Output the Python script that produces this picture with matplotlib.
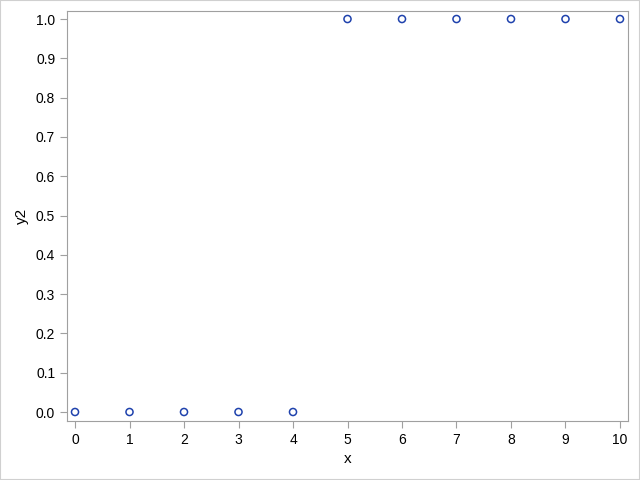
import matplotlib
matplotlib.use("Agg")
import matplotlib.pyplot as plt
from matplotlib.patches import Rectangle

x = [0, 1, 2, 3, 4, 5, 6, 7, 8, 9, 10]
y2 = [0, 0, 0, 0, 0, 1, 1, 1, 1, 1, 1]
xticks = list(range(0, 11))
yticks = [round(0.1 * i, 1) for i in range(11)]

plt.rcParams['font.family'] = ['Liberation Sans', 'DejaVu Sans']
fig = plt.figure(figsize=(6.4, 4.8), dpi=100)
fig.patches.append(Rectangle((0, 0), 1, 1, transform=fig.transFigure, fill=False,
                             edgecolor='#d0d0d0', linewidth=1.5))
ax = fig.add_axes([67/640, 1 - 421/480, (628-67)/640, (421-11)/480])
ax.scatter(x, y2, s=26, facecolors='none', edgecolors='#1f42ad', linewidths=1.1, zorder=3)
ax.set_xlim(-0.147, 10.147)
ax.set_ylim(-0.0229, 1.0204)
ax.set_xticks(xticks)
ax.set_yticks(yticks)
ax.set_yticklabels([f"{v:.1f}" for v in yticks])
for s in ax.spines.values():
    s.set_color('#a0a0a0')
ax.tick_params(colors='#a0a0a0', labelcolor='black', labelsize=10, length=5)
ax.set_xlabel('x', fontsize=11, labelpad=4)
ax.set_ylabel('y2', fontsize=11, labelpad=5)
fig.savefig('out.png', dpi=100)
